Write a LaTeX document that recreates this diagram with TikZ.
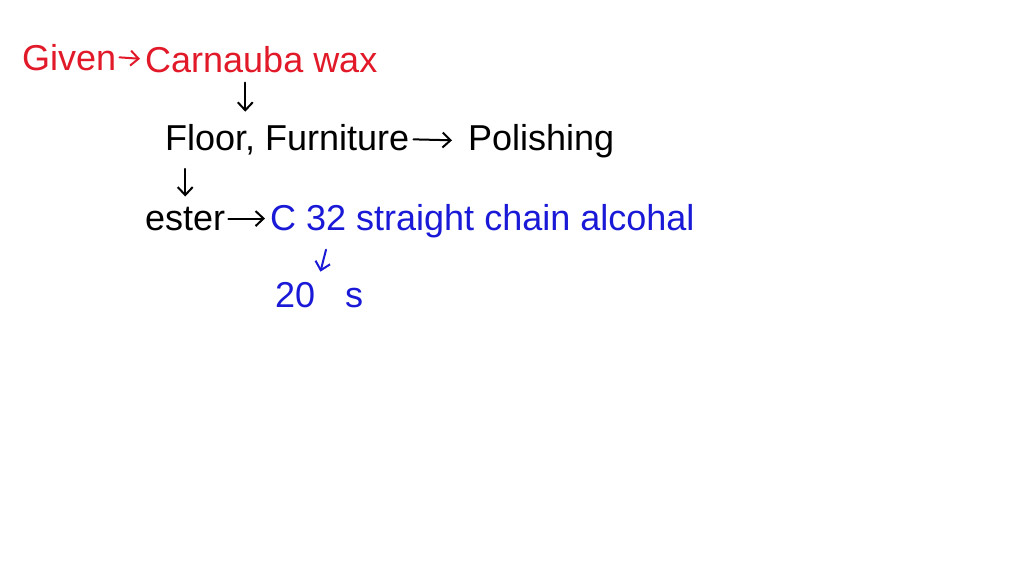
\documentclass[tikz,border=0pt]{standalone}
\usepackage{fontspec}
\setmainfont{Liberation Sans}
\usetikzlibrary{arrows.meta}
\definecolor{inkred}{RGB}{225,25,40}
\definecolor{inkblue}{RGB}{25,25,215}
\begin{document}
\begin{tikzpicture}[x=1pt,y=-1pt,
  txt/.style={inner sep=0pt,anchor=base west,font=\fontsize{36}{42}\selectfont},
  arr/.style={-{Straight Barb[length=8pt,width=15pt]},line width=2pt,line cap=round}]
\useasboundingbox[fill=white] (0,0) rectangle (1024,576);

\node[txt,inkred] (given) at (22,70) {Given};
\node[txt,inkred] (wax) at (145,72) {Carnauba wax};
\node[txt] (floor) at (165,150) {Floor, Furniture};
\node[txt] (polish) at (468,150) {Polishing};
\node[txt] (ester) at (145,230) {ester};
\node[txt,inkblue] (alcohol) at (270,230) {C 32 straight chain alcohal};
\node[txt,inkblue] (twenty) at (275,307) {20};
\node[txt,inkblue] (s) at (345,307) {s};

\draw[arr,inkred,shorten <=3pt,shorten >=5pt] (given.east) -- (wax.west);
\draw[arr,shorten <=4pt,shorten >=16pt] (floor.east) -- (polish.west);
\draw[arr,shorten <=3pt,shorten >=5pt] (ester.east) -- (ester.east -| alcohol.west);
\draw[arr,shorten >=12pt] ([shift={(-16,10)}]wax.south) -- ([xshift=-16]wax.south |- floor.north);
\draw[arr,shorten <=14pt,shorten >=10pt] (floor.south -| ester.north) -- (ester.north);
\draw[arr,inkblue] ([shift={(56,12)}]alcohol.south west) -- ([shift={(5,-10)}]twenty.north east);
\end{tikzpicture}
\end{document}
